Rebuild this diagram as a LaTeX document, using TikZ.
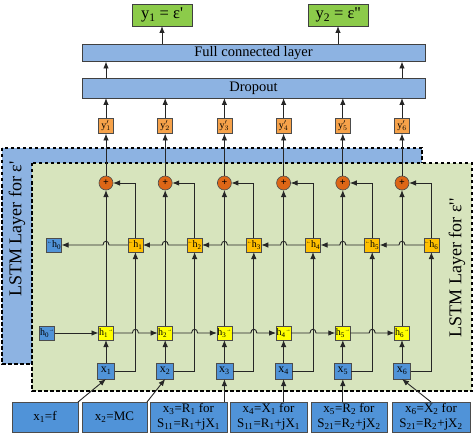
\documentclass[tikz,border=0pt]{standalone}
\usepackage{fontspec}
\setmainfont{Liberation Serif}[Ligatures=TeXOff]
\usetikzlibrary{arrows.meta,calc}
\definecolor{gpanel}{HTML}{D7E4BD}
\definecolor{bpanel}{HTML}{8DB3E2}
\definecolor{lbox}{HTML}{8DB3E2}
\definecolor{mbox}{HTML}{5093D8}
\definecolor{outg}{HTML}{8CCB4A}
\definecolor{yor}{HTML}{F6A24A}
\definecolor{hgold}{HTML}{FFC000}
\definecolor{hyel}{HTML}{FFFF00}
\definecolor{plusc}{HTML}{DD6616}
\newcommand\hbk[1]{\raisebox{4.5pt}{\fontsize{5}{5}\selectfont ←}h\textsubscript{#1}}
\newcommand\hfw[1]{h\textsubscript{#1}\raisebox{4.5pt}{\fontsize{5}{5}\selectfont →}}
\tikzset{
  every node/.style={inner sep=0pt, outer sep=0pt},
  panel/.style={line width=1.8pt, dash pattern=on 3.5pt off 2.5pt},
  outbox/.style={draw=black!75, line width=0.7pt, fill=outg, minimum width=60pt, minimum height=22pt, font=\fontsize{16.5}{17}\selectfont},
  layerbox/.style={draw=black!75, line width=0.8pt, fill=lbox, minimum width=343pt, font=\fontsize{14.5}{15}\selectfont},
  ybox/.style={draw=black!70, line width=0.5pt, fill=yor, minimum width=15pt, minimum height=15pt, font=\fontsize{10}{10}\selectfont},
  plusnode/.style={circle, draw=black!70, line width=0.6pt, fill=plusc, minimum size=14pt, font=\fontsize{10}{10}\selectfont\bfseries},
  hbox/.style={draw=black!70, line width=0.5pt, minimum width=15pt, minimum height=14pt, font=\fontsize{10}{10}\selectfont},
  xbox/.style={draw=black!70, line width=0.5pt, fill=mbox, minimum width=17pt, minimum height=16pt, font=\fontsize{12}{12}\selectfont},
  inbox/.style={draw=black!70, line width=0.6pt, fill=mbox, minimum height=30pt, align=center, font=\fontsize{13}{15}\selectfont},
  arr/.style={-{Latex[length=7pt,width=5.5pt]}, line width=0.9pt, draw=black!85},
  jump/.style={to path={-- ($(#1)!3pt!(\tikztostart)$) .. controls +(0pt,5pt) and +(0pt,5pt) .. ($(#1)!3pt!(\tikztotarget)$) -- (\tikztotarget)}},
  lab/.style={rotate=90, font=\fontsize{18}{18}\selectfont}
}
\begin{document}
\begin{tikzpicture}[x=1pt,y=-1pt]
\useasboundingbox (0,0) rectangle (474,433);
% panels
\draw[panel, fill=bpanel] (2,148) rectangle (422,364);
\draw[panel, fill=gpanel] (32,163) rectangle (472,391);
\node[lab] (lab1) at (17,229) {LSTM Layer for ε'};
\node[lab] (lab2) at (457,268) {LSTM Layer for ε''};
% top
\node[outbox] (o1) at (162,15) {y\textsubscript{1} = ε'};
\node[outbox] (o2) at (338,15) {y\textsubscript{2} = ε''};
\node[layerbox, minimum height=17pt] (fc) at (253.5,53) {Full connected layer};
\node[layerbox, minimum height=20pt] (dr) at (253.5,88) {Dropout};
% columns
\foreach \i in {1,...,6}{
  \pgfmathsetmacro\xa{106+59.2*(\i-1)}
  \pgfmathsetmacro\xb{\xa+29.4}
  \node[ybox] (y\i) at (\xa,126) {$\mathrm{y}'_{\i}$};
  \node[plusnode] (p\i) at (\xa,183) {+};
  \node[hbox, fill=hgold] (hb\i) at (\xb,245) {\hbk{\i}};
  \node[hbox, fill=hyel] (hf\i) at (\xa,333) {\hfw{\i}};
  \node[xbox] (x\i) at (\xa,371) {x\textsubscript{\i}};
  \coordinate (ja\i) at (\xa,245);
  \coordinate (jb\i) at (\xb,333);
}
\node[hbox, fill=mbox] (hb0) at (54,245) {\hbk{0}};
\node[hbox, fill=mbox] (hf0) at (47,333) {\hfw{0}};
% inputs
\node[inbox, minimum width=66pt] (in1) at (45,417) {x\textsubscript{1}=f};
\node[inbox, minimum width=65pt] (in2) at (114.5,417) {x\textsubscript{2}=MC};
\node[inbox, minimum width=77pt] (in3) at (188.5,417) {x\textsubscript{3}=R\textsubscript{1} for\\S\textsubscript{11}=R\textsubscript{1}+jX\textsubscript{1}};
\node[inbox, minimum width=77pt] (in4) at (268.5,417) {x\textsubscript{4}=X\textsubscript{1} for\\S\textsubscript{11}=R\textsubscript{1}+jX\textsubscript{1}};
\node[inbox, minimum width=76pt] (in5) at (349,417) {x\textsubscript{5}=R\textsubscript{2} for\\S\textsubscript{21}=R\textsubscript{2}+jX\textsubscript{2}};
\node[inbox, minimum width=78pt] (in6) at (431,417) {x\textsubscript{6}=X\textsubscript{2} for\\S\textsubscript{21}=R\textsubscript{2}+jX\textsubscript{2}};
% input connectors
\draw[arr] (in1.north east) -- (x1.south);
\draw[arr] (in2.north east) -- (x2.south);
\draw[arr] (x3 |- in3.north) -- (x3.south);
\draw[arr] (x4 |- in4.north) -- (x4.south);
\draw[arr] (x5 |- in5.north) -- (x5.south);
\draw[arr] (in6.north) -- (x6.south);
% column connectors
\foreach \i in {1,...,6}{
  \draw[arr] (p\i) -- (y\i);
  \draw[arr] (y\i) -- (y\i |- dr.south);
  \draw[arr] (x\i) -- (hf\i);
  \draw[arr] (x\i.east) -| (hb\i.south);
  \draw[arr] (hf\i.north) -- (p\i.south);
  \draw[arr] (hb\i.north) |- (p\i.east);
}
% rows
\draw[arr] (hf0.east) -- (hf1.west);
\foreach \i [evaluate=\i as \j using int(\i+1)] in {1,...,5}{
  \draw[arr] (hf\i.east) to[jump=jb\i] (hf\j.west);
}
\foreach \i [evaluate=\i as \k using int(\i-1)] in {1,...,6}{
  \draw[arr] (hb\i.west) to[jump=ja\i] (hb\k.east);
}
% upper layers
\draw[arr] (y1 |- dr.north) -- (y1 |- fc.south);
\draw[arr] (y6 |- dr.north) -- (y6 |- fc.south);
\draw[arr] (o1 |- fc.north) -- (o1.south);
\draw[arr] (o2 |- fc.north) -- (o2.south);
\end{tikzpicture}
\end{document}
